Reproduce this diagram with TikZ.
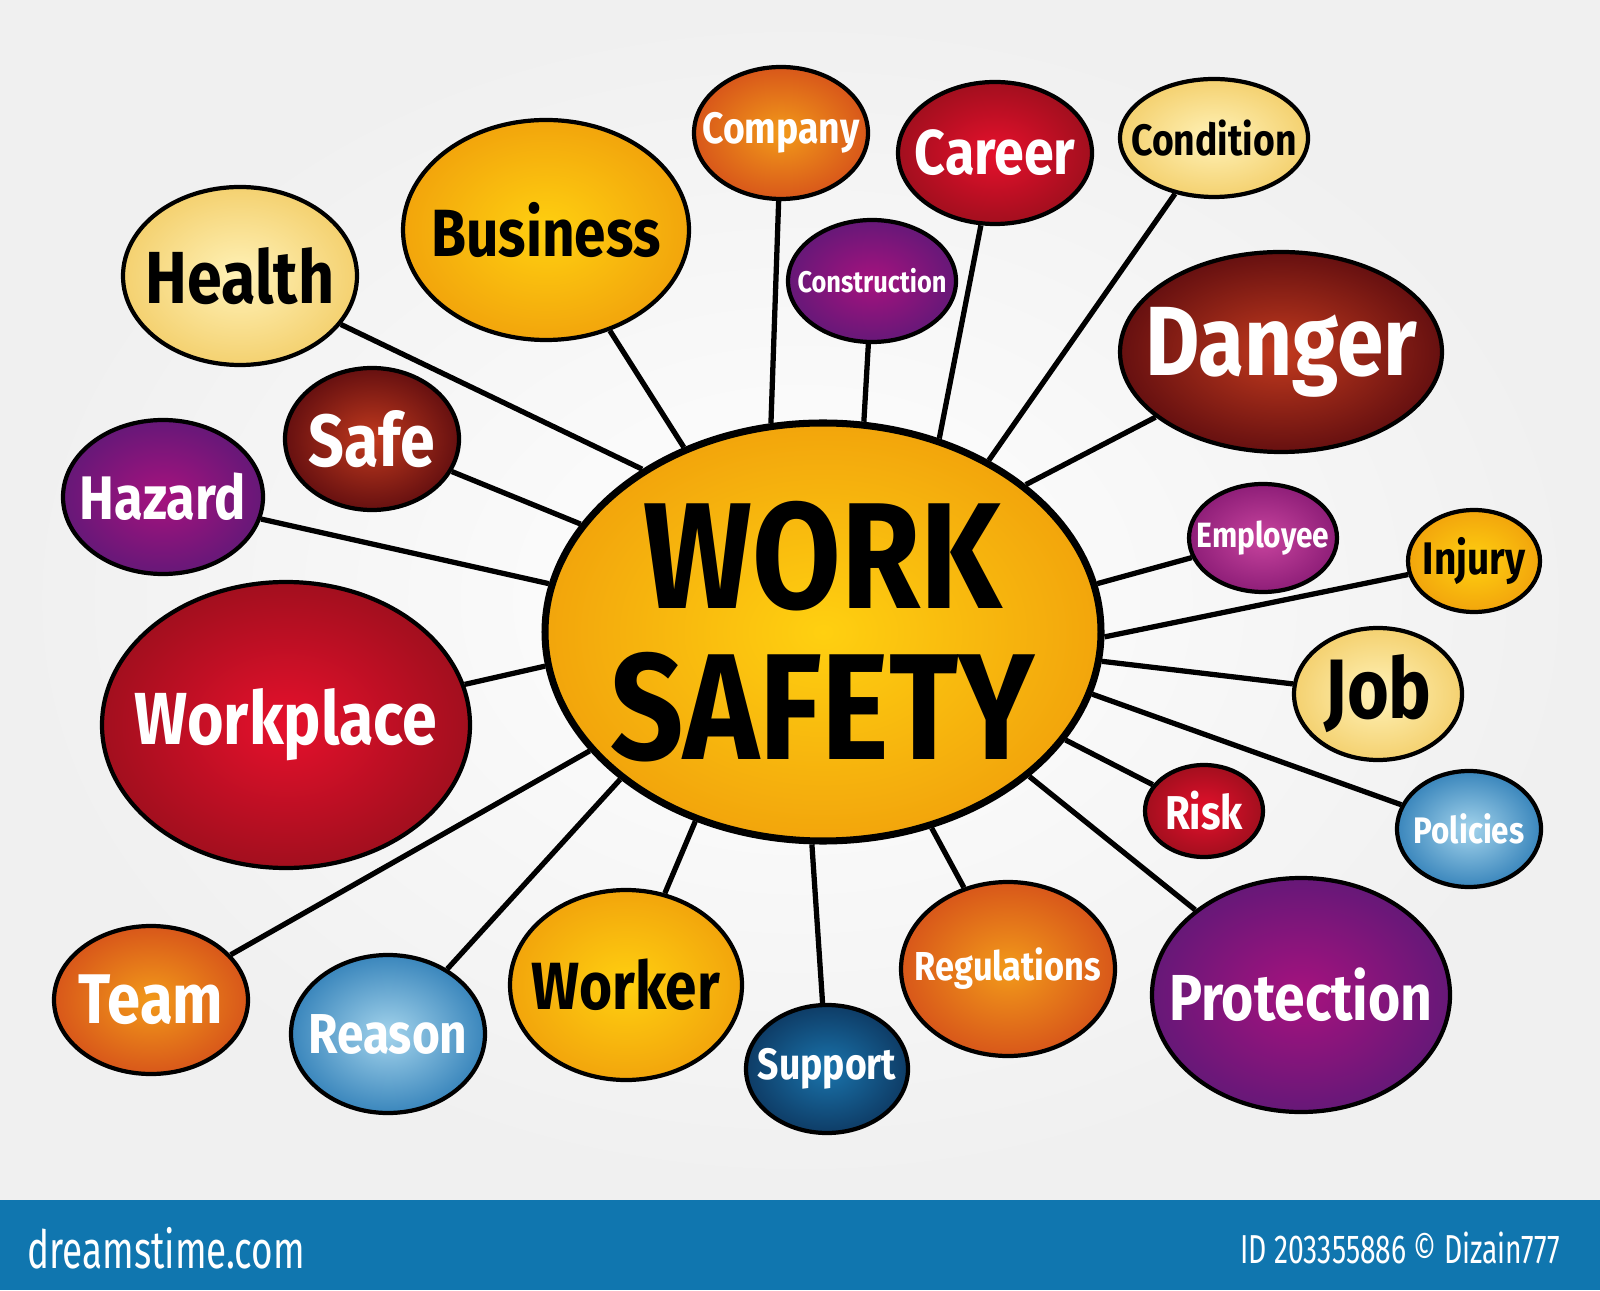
\documentclass[tikz,border=0pt]{standalone}
\usepackage{fontspec}
\setmainfont{Fira Sans}[FakeStretch=0.85]
\newfontfamily\bannerfont{Fira Sans}[FakeStretch=0.7]
\usetikzlibrary{shapes.geometric,positioning}

\definecolor{bannerblue}{HTML}{1076AF}
\definecolor{ltyin}{HTML}{FFF2B8}\definecolor{ltyout}{HTML}{F4D170}
\definecolor{goldin}{HTML}{FFD010}\definecolor{goldout}{HTML}{F2A50C}
\definecolor{orin}{HTML}{F29A1A}\definecolor{orout}{HTML}{D8571A}
\definecolor{redin}{HTML}{E6102C}\definecolor{redout}{HTML}{A20F1E}
\definecolor{brin}{HTML}{C23A1E}\definecolor{brout}{HTML}{661010}
\definecolor{puin}{HTML}{A6127E}\definecolor{puout}{HTML}{661878}
\definecolor{piin}{HTML}{C8449E}\definecolor{piout}{HTML}{8E1E78}
\definecolor{lbin}{HTML}{A4D4EC}\definecolor{lbout}{HTML}{3A86BC}
\definecolor{dbin}{HTML}{1A74AC}\definecolor{dbout}{HTML}{0E3C66}

% keep the text from widening the bubble
\newcommand{\nw}[1]{\makebox[0pt]{#1}}

\begin{document}
\begin{tikzpicture}[
    bubble/.style={ellipse, draw, line width=1.2pt, inner sep=0pt, minimum width=#1},
    txt/.style={font=\bfseries\fontsize{#1}{#1}\selectfont},
    link/.style={line width=1.5pt},
    lightyellow/.style={inner color=ltyin, outer color=ltyout, text=black},
    goldb/.style={inner color=goldin, outer color=goldout, text=black},
    orangeb/.style={inner color=orin, outer color=orout, text=white},
    redb/.style={inner color=redin, outer color=redout, text=white},
    brownb/.style={inner color=brin, outer color=brout, text=white},
    purpleb/.style={inner color=puin, outer color=puout, text=white},
    pinkb/.style={inner color=piin, outer color=piout, text=white},
    lightblueb/.style={inner color=lbin, outer color=lbout, text=white},
    darkblueb/.style={inner color=dbin, outer color=dbout, text=white}
]
    \useasboundingbox (0,0) rectangle (16,12.9);
    \shade[inner color=white, outer color=gray!12] (0,0.9) rectangle (16,12.9);

    % centre
    \node[bubble=5.56cm, minimum height=4.18cm, line width=2pt, goldb, txt=43, align=center] (ws) at (8.23,6.58) {\nw{WORK}\\[0pt]\nw{SAFETY}};

    % upper side
    \node[bubble=2.34cm, minimum height=1.78cm, lightyellow, txt=21] (health) at (2.40,10.14) {\nw{Health}};
    \node[bubble=2.86cm, minimum height=2.20cm, goldb, txt=19] (business) at (5.46,10.60) {\nw{Business}};
    \node[bubble=1.74cm, minimum height=1.32cm, orangeb, txt=12.5] (company) at (7.81,11.57) {\nw{Company}};
    \node[bubble=1.94cm, minimum height=1.42cm, redb, txt=18] (career) at (9.95,11.37) {\nw{Career}};
    \node[bubble=1.88cm, minimum height=1.18cm, lightyellow, txt=12.5] (condition) at (12.14,11.52) {\nw{Condition}};
    \node[bubble=1.68cm, minimum height=1.22cm, purpleb, txt=8.5] (construction) at (8.72,10.09) {\nw{Construction}};
    \node[bubble=3.22cm, minimum height=2.00cm, brownb, txt=28] (danger) at (12.81,9.38) {\nw{Danger}};

    % left side
    \node[bubble=1.74cm, minimum height=1.42cm, brownb, txt=21] (safe) at (3.72,8.51) {\nw{Safe}};
    \node[bubble=2.00cm, minimum height=1.54cm, purpleb, txt=17.5] (hazard) at (1.63,7.93) {\nw{Hazard}};
    \node[bubble=3.68cm, minimum height=2.86cm, redb, txt=21] (workplace) at (2.86,5.65) {\nw{Workplace}};

    % right side
    \node[bubble=1.48cm, minimum height=1.08cm, pinkb, txt=10] (employee) at (12.63,7.52) {\nw{Employee}};
    \node[bubble=1.32cm, minimum height=1.02cm, goldb, txt=13] (injury) at (14.74,7.29) {\nw{Injury}};
    \node[bubble=1.68cm, minimum height=1.32cm, lightyellow, txt=24] (job) at (13.78,5.96) {\nw{Job}};
    \node[bubble=1.18cm, minimum height=0.92cm, redb, txt=13.5] (risk) at (12.04,4.79) {\nw{Risk}};
    \node[bubble=1.44cm, minimum height=1.16cm, lightblueb, txt=10.5] (policies) at (14.69,4.61) {\nw{Policies}};
    \node[bubble=2.98cm, minimum height=2.34cm, purpleb, txt=18.5] (protection) at (13.01,2.95) {\nw{Protection}};

    % bottom
    \node[bubble=2.14cm, minimum height=1.74cm, orangeb, txt=11.5] (regulations) at (10.08,3.21) {\nw{Regulations}};
    \node[bubble=1.62cm, minimum height=1.28cm, darkblueb, txt=12.5] (support) at (8.27,2.21) {\nw{Support}};
    \node[bubble=2.32cm, minimum height=1.90cm, goldb, txt=19] (worker) at (6.26,3.05) {\nw{Worker}};
    \node[bubble=1.94cm, minimum height=1.58cm, lightblueb, txt=16] (reason) at (3.88,2.56) {\nw{Reason}};
    \node[bubble=1.94cm, minimum height=1.48cm, orangeb, txt=20] (team) at (1.51,2.90) {\nw{Team}};

    % spokes
    \foreach \n/\a in {health/138, business/127, company/104, construction/79, career/59,
        condition/46, danger/36, employee/10, injury/-1, job/-6, policies/-13.5,
        risk/-24, protection/-35, regulations/-61, support/-93, worker/-124,
        reason/-144, team/-153, workplace/-173, hazard/170, safe/156}
        \draw[link] (ws.\a) -- (\n);

    % banner
    \fill[bannerblue] (0,0) rectangle (16,0.9);
    \node[anchor=west, text=white, font=\bannerfont\fontsize{15}{15}\selectfont] (site) at (0.15,0.42) {dreamstime.com};
    \node[anchor=east, text=white, font=\bannerfont\fontsize{11.5}{11.5}\selectfont] (credit) at (15.72,0.42) {ID 203355886 © Dizain777};
\end{tikzpicture}
\end{document}
